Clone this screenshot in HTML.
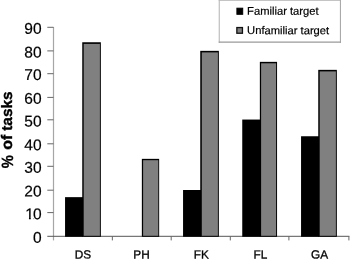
<!DOCTYPE html>
<html><head><meta charset="utf-8">
<style>
html,body{margin:0;padding:0;background:#fff;}
body{width:350px;height:260px;overflow:hidden;}
svg{display:block;font-family:"Liberation Sans",Arial,sans-serif;text-rendering:geometricPrecision;}
</style></head><body>
<svg width="350" height="260" viewBox="0 0 350 260">
<rect width="350" height="260" fill="#fff"/>
<!-- axes -->
<g fill="none">
<line x1="53.5" y1="27" x2="53.5" y2="240.4" stroke="#a6a6a6" stroke-width="1.2"/>
<line x1="47.3" y1="236.3" x2="349.4" y2="236.3" stroke="#555" stroke-width="1"/>
<g stroke="#666" stroke-width="1">
<line x1="47.3" y1="27.3" x2="53.5" y2="27.3"/>
<line x1="47.3" y1="50.9" x2="53.5" y2="50.9"/>
<line x1="47.3" y1="73.7" x2="53.5" y2="73.7"/>
<line x1="47.3" y1="97.4" x2="53.5" y2="97.4"/>
<line x1="47.3" y1="119.8" x2="53.5" y2="119.8"/>
<line x1="47.3" y1="143.8" x2="53.5" y2="143.8"/>
<line x1="47.3" y1="166.3" x2="53.5" y2="166.3"/>
<line x1="47.3" y1="190.2" x2="53.5" y2="190.2"/>
<line x1="47.3" y1="212.6" x2="53.5" y2="212.6"/>
<line x1="112.35" y1="236.3" x2="112.35" y2="240.4"/>
<line x1="171.20" y1="236.3" x2="171.20" y2="240.4"/>
<line x1="230.30" y1="236.3" x2="230.30" y2="240.4"/>
<line x1="288.90" y1="236.3" x2="288.90" y2="240.4"/>
<line x1="348.90" y1="236.3" x2="348.90" y2="240.4"/>
</g>
</g>
<!-- bars -->
<g stroke="none">
<rect x="65.05" y="197.15" width="17.95" height="39.65" fill="#000"/>
<rect x="183.05" y="190.00" width="17.95" height="46.80" fill="#000"/>
<rect x="242.25" y="119.55" width="18.25" height="117.25" fill="#000"/>
<rect x="301.05" y="136.25" width="17.95" height="100.55" fill="#000"/>
<rect x="82.25" y="42.25" width="18.60" height="194.55" fill="#000"/>
<rect x="83.70" y="43.90" width="16.20" height="191.90" fill="#808080"/>
<rect x="141.85" y="158.85" width="17.30" height="77.95" fill="#000"/>
<rect x="143.10" y="160.20" width="15.20" height="75.60" fill="#808080"/>
<rect x="200.25" y="50.85" width="18.60" height="185.95" fill="#000"/>
<rect x="201.80" y="52.40" width="16.10" height="183.40" fill="#808080"/>
<rect x="259.85" y="61.85" width="17.20" height="174.95" fill="#000"/>
<rect x="261.10" y="63.30" width="15.00" height="172.50" fill="#808080"/>
<rect x="318.25" y="69.85" width="18.60" height="166.95" fill="#000"/>
<rect x="319.70" y="71.40" width="16.20" height="164.40" fill="#808080"/>
</g>
<!-- y labels -->
<g font-size="15.5" fill="#000" text-anchor="end" stroke="#000" stroke-width="0.2">
<text transform="translate(41.6,33.88) rotate(0.1) scale(1,1.0)">90</text>
<text transform="translate(41.6,57.56) rotate(0.1) scale(1,1.0)">80</text>
<text transform="translate(41.6,80.11) rotate(0.1) scale(1,1.0)">70</text>
<text transform="translate(41.6,103.85) rotate(0.1) scale(1,1.0)">60</text>
<text transform="translate(41.6,126.43) rotate(0.1) scale(1,1.0)">50</text>
<text transform="translate(41.6,150.31) rotate(0.1) scale(1,1.0)">40</text>
<text transform="translate(41.6,172.83) rotate(0.1) scale(1,1.0)">30</text>
<text transform="translate(41.6,196.57) rotate(0.1) scale(1,1.0)">20</text>
<text transform="rotate(0.1 41.6 219.21)" text-anchor="start" x="25.36 32.98" y="219.21">10</text>
<rect x="24.5" y="217.7" width="4.45" height="2.6" fill="#fff" stroke="none"/><rect x="30.75" y="217.7" width="2.4" height="2.6" fill="#fff" stroke="none"/>
<text transform="translate(41.6,242.83) rotate(0.1) scale(1,1.0)">0</text>
</g>
<text transform="translate(12.2,0) rotate(-90)" font-weight="bold" fill="#000" stroke="#000" stroke-width="0.35"><tspan x="-168.2" y="0.5" font-size="16.2" textLength="13.07" lengthAdjust="spacingAndGlyphs">%</tspan> <tspan x="-149.8" y="0" font-size="15.36" textLength="15.1" lengthAdjust="spacingAndGlyphs">of</tspan> <tspan x="-130.8" y="0" font-size="15.1" textLength="39.38" lengthAdjust="spacingAndGlyphs">tasks</tspan></text>
<!-- x labels -->
<g font-size="11.8" fill="#000" text-anchor="middle" stroke="#000" stroke-width="0.3">
<text transform="translate(83.0,258.6) rotate(0.1)">DS</text>
<text transform="translate(141.5,258.6) rotate(0.1)">PH</text>
<text transform="translate(201.3,258.6) rotate(0.1)">FK</text>
<text transform="translate(260.4,258.6) rotate(0.1)">FL</text>
<text transform="translate(319.5,258.6) rotate(0.1)">GA</text>
</g>
<!-- legend -->
<rect x="219.25" y="0.5" width="121.2" height="41.7" fill="#fff" stroke="none"/>
<g fill="none" stroke-width="1.1">
<line x1="218.7" y1="0.5" x2="341" y2="0.5" stroke="#c4c4c4"/>
<line x1="219.25" y1="0" x2="219.25" y2="42.7" stroke="#b8b8b8"/>
<line x1="340.45" y1="0" x2="340.45" y2="42.7" stroke="#aaaaaa"/>
<line x1="218.7" y1="42.15" x2="341" y2="42.15" stroke="#9a9a9a"/>
</g>
<rect x="236.9" y="8.2" width="5.8" height="6.1" fill="#000" stroke="#000" stroke-width="1"/>
<rect x="236.85" y="27.55" width="5.6" height="5.7" fill="#808080" stroke="#111" stroke-width="1.3"/>
<g font-size="11.2" fill="#000" stroke="#000" stroke-width="0.2">
<text transform="translate(247.1,14.65) rotate(0.1)">Familiar target</text>
<text transform="translate(247.1,34.1) rotate(0.1)">Unfamiliar target</text>
</g>
</svg>
</body></html>
